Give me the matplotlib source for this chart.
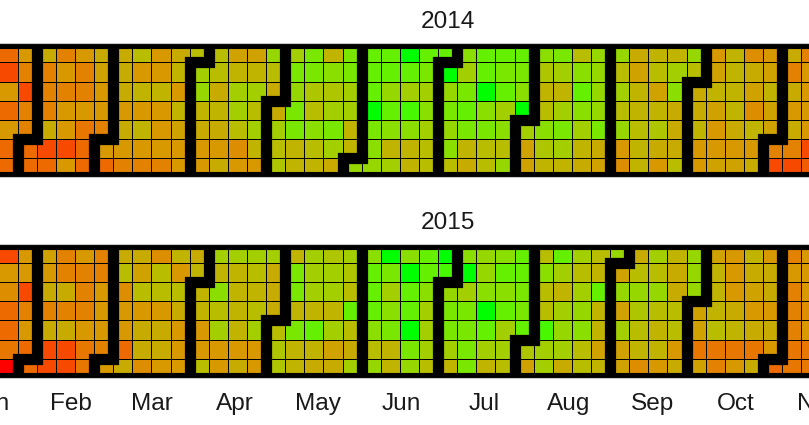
import numpy as np
import pandas as pd
import matplotlib
matplotlib.use('Agg')
import matplotlib.pyplot as plt
from matplotlib.colors import ListedColormap
from matplotlib.patches import Polygon

plt.rcParams['font.family'] = ['Liberation Sans', 'DejaVu Sans']

years = [2014, 2015]
# monday of the first week column that shows in the picture
start_days = ['2014-01-20', '2015-01-19']
month_names = ['Jan', 'Feb', 'Mar', 'Apr', 'May', 'Jun',
               'Jul', 'Aug', 'Sep', 'Oct', 'Nov', 'Dec']

# daily values, one list per week (Mon..Sun)
# 0 = red, 10 = green
vals_2014 = [
    [2, 1, 4, 2, 4, 2, 2],
    [4, 3, 1, 3, 3, 2, 2],
    [5, 3, 3, 3, 5, 1, 2],
    [3, 4, 3, 4, 4, 1, 4],
    [4, 3, 3, 4, 2.5, 2, 2],
    [5, 4.5, 4, 4, 3, 4, 2],
    [5, 5, 5, 4, 5, 4, 3],
    [6, 4, 5.5, 4, 5.5, 4, 3],
    [4, 4, 5.5, 4, 4, 4, 3],
    [5, 5.5, 4, 5.5, 4.5, 4, 4],
    [6, 7, 7.5, 5.5, 5, 4, 4],
    [6, 6, 5, 5.5, 5, 4, 5],
    [4.5, 5.5, 7, 7, 6, 3.5, 4],
    [4.5, 5.5, 7, 6, 7, 5.5, 4],
    [7.5, 6, 5, 5, 7, 6, 6.5],
    [7, 8.5, 7.5, 8.5, 8.5, 5.5, 5.5],
    [8.5, 8.5, 6.5, 6, 8, 6, 5.5],
    [5.5, 8, 6.5, 7, 8.5, 7, 5],
    [8.5, 8.5, 7, 7, 5.5, 5.5, 7.5],
    [9, 9, 9, 10, 8.5, 8, 7.5],
    [9, 9, 7.5, 9, 8, 5.5, 7],
    [10, 9, 7, 9.5, 8, 5.5, 5.5],
    [9, 8.5, 7, 8, 7, 6, 6],
    [9, 10, 7.5, 8.5, 7.5, 8, 6],
    [8, 7, 8.5, 9, 8.5, 5.5, 5],
    [9, 9, 10, 8, 8.5, 6, 6],
    [9, 8.5, 9, 7, 8, 6, 7.5],
    [9, 8.5, 8, 10, 7, 4.5, 4.5],
    [8, 6.5, 5.5, 6, 8, 6.5, 5.5],
    [8.5, 7, 5.5, 7, 8.5, 7, 5.5],
    [6, 8, 9, 8, 7, 5.5, 5],
    [7.5, 7.5, 7.5, 7.5, 8.5, 5, 4.5],
    [7.5, 6, 7, 6, 7.5, 4, 3.5],
    [5, 4.5, 5.5, 5.5, 6, 5.5, 5.5],
    [5.5, 6, 4.5, 5.5, 6.5, 5, 4],
    [5.5, 7, 8, 5, 5, 5, 6],
    [7.5, 6, 5, 5, 5.5, 4, 4],
    [4, 4.5, 5.5, 4.5, 4, 4, 4.5],
    [5.5, 5.5, 5.5, 5.5, 5, 4, 4.5],
    [3.5, 5, 4.5, 3.5, 5.5, 4, 5],
    [4, 4.5, 5.5, 4.5, 4.5, 3, 1],
    [5, 3, 5, 4, 5, 3, 1],
    [3, 4, 4, 4, 4, 1, 1.5],
]

vals_2015 = [
    [1, 4, 3.5, 2, 2, 2.5, 0],
    [4, 4, 1, 3, 4, 2, 2],
    [4.5, 4, 5, 3, 5, 1, 1],
    [3, 3, 5, 3, 5, 1, 1],
    [4, 3, 3, 3, 4, 2.5, 2.5],
    [3, 3, 4, 4, 4, 3, 4],
    [5, 6, 3.5, 4, 4, 2, 5],
    [5, 4.5, 6, 4, 5, 5, 3.5],
    [3.5, 6, 6, 4, 5, 5, 4],
    [5.5, 4, 6, 5, 4, 4, 4],
    [5, 5.5, 5.5, 5.5, 4, 4, 6],
    [7, 5.5, 8, 6, 7, 4, 4],
    [7, 5.5, 5.5, 5.5, 5.5, 4, 5],
    [7, 6, 5.5, 6, 7, 4, 4],
    [7, 5, 5, 5, 6, 6.5, 6.5],
    [5.5, 8.5, 8.5, 5.5, 8.5, 5.5, 5.5],
    [7, 7, 7, 5.5, 9, 5.5, 5],
    [6.5, 7, 7, 5.5, 7, 4.5, 5],
    [7, 6.5, 6, 9, 6, 5, 7],
    [8, 9, 9, 9, 8, 6, 7.5],
    [10, 8.5, 7, 8, 8.5, 5.5, 5.5],
    [8, 10, 9, 9, 10, 8.5, 7.5],
    [9, 9, 8, 7, 7, 7, 6],
    [10, 9.5, 7.5, 8.5, 8.5, 7, 5.5],
    [8, 10, 7, 8.5, 8.5, 8.5, 8.5],
    [7.5, 7.5, 8, 10, 9, 7, 5.5],
    [8, 9, 8, 9, 7, 7, 6],
    [9, 9, 8.5, 8.5, 9, 6.5, 4.5],
    [6, 8, 6, 6, 9.5, 7, 7],
    [9, 7, 5.5, 7, 7.5, 7, 5],
    [7, 6, 7, 7.5, 8, 6, 6],
    [6, 5.5, 9, 5.5, 5.5, 4.5, 5.5],
    [7.5, 4.5, 7.5, 4.5, 7, 4.5, 4.5],
    [5, 6, 7.5, 6.5, 6, 5.5, 3.5],
    [7, 6, 7.5, 6, 5.5, 5.5, 4],
    [5.5, 5, 5, 6, 6, 4, 5],
    [7.5, 7.5, 7.5, 4.5, 4.5, 2.5, 4.5],
    [4.5, 5.5, 5.5, 5.5, 6, 2.5, 3],
    [4, 4, 4, 5, 5.5, 2.5, 4],
    [5.5, 5, 4.5, 4, 5, 2.5, 5],
    [4, 5, 5, 4, 5, 4, 2],
    [3, 4, 3, 3, 3, 2.5, 2.5],
    [4, 4, 4, 3.5, 4, 2.5, 2.5],
]
all_vals = [vals_2014, vals_2015]


# red -> green gradient interpolated in CIE Lab (like ggplot does)
M = np.array([[0.4124564, 0.3575761, 0.1804375],
              [0.2126729, 0.7151522, 0.0721750],
              [0.0193339, 0.1191920, 0.9503041]])
white = np.array([0.95047, 1.0, 1.08883])

def to_lab(rgb):
    c = np.where(rgb <= 0.04045, rgb / 12.92, ((rgb + 0.055) / 1.055) ** 2.4)
    t = (M @ c) / white
    f = np.where(t > (6 / 29) ** 3, np.cbrt(t), t / (3 * (6 / 29) ** 2) + 4 / 29)
    return np.array([116 * f[1] - 16, 500 * (f[0] - f[1]), 200 * (f[1] - f[2])])

def from_lab(lab):
    fy = (lab[0] + 16) / 116
    f = np.array([fy + lab[1] / 500, fy, fy - lab[2] / 200])
    t = np.where(f > 6 / 29, f ** 3, 3 * (6 / 29) ** 2 * (f - 4 / 29)) * white
    c = np.clip(np.linalg.inv(M) @ t, 0, 1)
    s = np.where(c <= 0.0031308, 12.92 * c, 1.055 * c ** (1 / 2.4) - 0.055)
    return np.clip(s, 0, 1)

lo = to_lab(np.array([1.0, 0.0, 0.0]))
hi = to_lab(np.array([0.0, 1.0, 0.0]))
cmap = ListedColormap([from_lab(lo + (hi - lo) * k) for k in np.linspace(0, 1, 256)])


# month label position = mean week number of all days of that month
cal = pd.DataFrame({'date': pd.concat([pd.Series(pd.date_range(f'{y}-01-01', f'{y}-12-31')) for y in years])})
cal['week'] = cal['date'].dt.strftime('%W').astype(int)
cal['month'] = cal['date'].dt.month
label_pos = cal.groupby('month')['week'].mean().values

fig = plt.figure(figsize=(8.09, 4.25), dpi=100)
# panels are wider than the picture, the original was cropped
panel_pos = [[-0.0726, 0.5835, 1.2520, 0.3146],
             [-0.0726, 0.1113, 1.2520, 0.3141]]

for i, y in enumerate(years):
    ax = fig.add_axes(panel_pos[i])
    dates = pd.date_range(start_days[i], periods=len(all_vals[i]) * 7)
    v = np.array(all_vals[i], dtype=float).ravel()
    weeks = dates.strftime('%W').astype(int)
    dows = dates.weekday

    grid = np.full((7, 53), np.nan)
    grid[dows, weeks] = v
    ax.pcolormesh(np.arange(54) - 0.5, np.arange(8) - 0.5, np.ma.masked_invalid(grid),
                  cmap=cmap, vmin=0, vmax=10, edgecolors='black', linewidth=0.6)

    # thick outline round each month
    for m in range(1, 13):
        first = pd.Timestamp(y, m, 1)
        last = first + pd.offsets.MonthEnd(0)
        w1, r1 = int(first.strftime('%W')), first.weekday()
        w2, r2 = int(last.strftime('%W')), last.weekday()
        pts = [(w1 - 0.5, r1 - 0.5), (w1 + 0.5, r1 - 0.5), (w1 + 0.5, -0.5),
               (w2 + 0.5, -0.5), (w2 + 0.5, r2 + 0.5), (w2 - 0.5, r2 + 0.5),
               (w2 - 0.5, 6.5), (w1 - 0.5, 6.5)]
        ax.add_patch(Polygon(pts, closed=True, fill=False, ec='black', lw=8,
                             joinstyle='miter'))

    ax.set_xlim(-0.5, 52.5)
    ax.set_ylim(6.5, -0.5)
    ax.set_yticks([])
    ax.set_title(str(y), fontsize=17.6, color='#1a1a1a', pad=11)
    for s in ['left', 'right']:
        ax.spines[s].set_visible(False)
    for s in ['top', 'bottom']:
        ax.spines[s].set_color('#c8c8c8')
        ax.spines[s].set_linewidth(0.8)
    ax.set_xticks(label_pos)
    if i == len(years) - 1:
        ax.set_xticklabels(month_names)
        ax.tick_params(axis='x', length=0, pad=11, labelsize=17.6, labelcolor='#1a1a1a')
    else:
        ax.set_xticklabels([])
        ax.tick_params(axis='x', length=0)

fig.savefig('out.png', dpi=100)
